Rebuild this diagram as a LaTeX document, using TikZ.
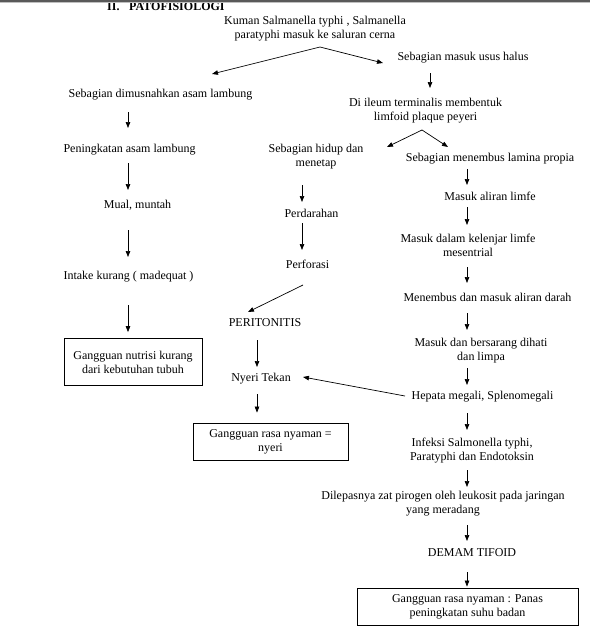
\documentclass[tikz,border=0pt]{standalone}
\usepackage{fontspec}
\setmainfont{Liberation Serif}
\usetikzlibrary{arrows.meta}
\tikzset{
  txt/.style={font=\fontsize{12}{14}\selectfont, inner sep=0pt, align=center},
  boxnode/.style={txt, draw, line width=0.8pt},
  arr/.style={draw, line width=0.7pt, -{Triangle[length=6pt,width=4.5pt]}},
  ln/.style={draw, line width=0.7pt}
}
\begin{document}
\begin{tikzpicture}[x=1pt,y=-1pt]
\useasboundingbox (0,0) rectangle (590,632);
% title
\node[txt, font=\fontsize{12}{14}\selectfont\bfseries, anchor=base west] (title) at (107,10) {II.\hspace{9.7pt}PATOFISIOLOGI};
\fill[black!65] (0,0) rectangle (590,2.2);
\fill[black!25] (0,2.2) rectangle (590,3);

% nodes
\node[txt] (kuman) at (315,29) {Kuman Salmanella typhi , Salmanella\\paratyphi masuk ke saluran cerna};
\node[txt] (usus) at (463,58) {Sebagian masuk usus halus};
\node[txt] (dimus) at (160.5,95) {Sebagian dimusnahkan asam lambung};
\node[txt] (ileum) at (425.5,110.5) {Di ileum terminalis membentuk\\limfoid plaque peyeri};
\node[txt] (pening) at (129.5,150) {Peningkatan asam lambung};
\node[txt] (mual) at (137.5,205) {Mual, muntah};
\node[txt] (intake) at (128.5,277) {Intake kurang ( madequat )};
\node[boxnode, minimum width=138pt, minimum height=47pt] (nutri) at (133,362) {Gangguan nutrisi kurang\\dari kebutuhan tubuh};
\node[txt] (hidup) at (316,156.5) {Sebagian hidup dan\\menetap};
\node[txt] (lamina) at (490,159) {Sebagian menembus lamina propia};
\node[txt] (limfe) at (490,196) {Masuk aliran limfe};
\node[txt] (kelenjar) at (468,245.5) {Masuk dalam kelenjar limfe\\mesentrial};
\node[txt] (menembus) at (487.5,297) {Menembus dan masuk aliran darah};
\node[txt] (perdarahan) at (311.5,213) {Perdarahan};
\node[txt] (perforasi) at (307.5,264) {Perforasi};
\node[txt] (peritonitis) at (265,323) {PERITONITIS};
\node[txt] (nyeri) at (261,379) {Nyeri Tekan};
\node[txt] (bersarang) at (481,350.5) {Masuk dan bersarang dihati\\dan limpa};
\node[txt] (hepata) at (482.5,397) {Hepata megali, Splenomegali};
\node[boxnode, minimum width=155pt, minimum height=37pt] (nyeribox) at (270.5,441.5) {Gangguan rasa nyaman =\\nyeri};
\node[txt] (infeksi) at (472,450.5) {Infeksi Salmonella typhi,\\Paratyphi dan Endotoksin};
\node[txt] (dilepas) at (443,503.5) {Dilepasnya zat pirogen oleh leukosit pada jaringan\\yang meradang};
\node[txt] (demam) at (472,553) {DEMAM TIFOID};
\node[boxnode, minimum width=221pt, minimum height=37pt] (panas) at (467.5,606.5) {Gangguan rasa nyaman : Panas\\peningkatan suhu badan};

% split from kuman
\draw[arr] ([shift={(5,18)}]kuman.center) -- ([shift={(51.5,-21)}]dimus.center);
\draw[arr] ([shift={(5,18)}]kuman.center) -- ([shift={(-80,5)}]usus.center);

% left column
\draw[arr] ([shift={(-32.5,17)}]dimus.center) -- ([shift={(-1.5,-22)}]pening.center);
\draw[arr] ([shift={(-1.5,13)}]pening.center) -- ([shift={(-9.5,-15)}]mual.center);
\draw[arr] ([shift={(-9.5,25)}]mual.center) -- ([shift={(-0.5,-20)}]intake.center);
\draw[arr] ([shift={(-0.5,28)}]intake.center) -- ([shift={(-5,-6)}]nutri.north);

% usus -> ileum
\draw[arr] ([shift={(-33,15)}]usus.center) -- ([shift={(4.5,-22.5)}]ileum.center);
% V from ileum
\draw[arr] ([shift={(-3.5,19.5)}]ileum.center) -- ([shift={(71,-9.5)}]hidup.center);
\draw[arr] ([shift={(-3.5,19.5)}]ileum.center) -- ([shift={(-42,-12)}]lamina.center);

% middle column
\draw[arr] ([shift={(-14,28.5)}]hidup.center) -- ([shift={(-9.5,-11)}]perdarahan.center);
\draw[arr] ([shift={(-9.5,10)}]perdarahan.center) -- ([shift={(-5.5,-14)}]perforasi.center);
\draw[arr] ([shift={(-4.5,21)}]perforasi.center) -- ([shift={(-17,-11)}]peritonitis.center);
\draw[arr] ([shift={(-8,17)}]peritonitis.center) -- ([shift={(-4,-12)}]nyeri.center);
\draw[arr] ([shift={(-77.5,-1)}]hepata.center) -- ([shift={(42,-2)}]nyeri.center);
\draw[arr] ([shift={(-4,15)}]nyeri.center) -- ([shift={(-13.5,-10)}]nyeribox.north);

% right column
\draw[arr] ([shift={(-23,10)}]lamina.center) -- ([shift={(-23,-11)}]limfe.center);
\draw[arr] ([shift={(-23,11)}]limfe.center) -- ([shift={(-1,-20.5)}]kelenjar.center);
\draw[arr] ([shift={(-1,21.5)}]kelenjar.center) -- ([shift={(-20.5,-14)}]menembus.center);
\draw[arr] ([shift={(-20.5,16)}]menembus.center) -- ([shift={(-14,-20.5)}]bersarang.center);
\draw[arr] ([shift={(-14,17.5)}]bersarang.center) -- ([shift={(-15.5,-12)}]hepata.center);
\draw[arr] ([shift={(-15.5,16)}]hepata.center) -- ([shift={(-5,-20.5)}]infeksi.center);
\draw[arr] ([shift={(-5,19.5)}]infeksi.center) -- ([shift={(24,-16.5)}]dilepas.center);
\draw[arr] ([shift={(24,21.5)}]dilepas.center) -- ([shift={(-5,-12)}]demam.center);
\draw[arr] ([shift={(-5,19)}]demam.center) -- ([shift={(-0.5,-1)}]panas.north);
\end{tikzpicture}
\end{document}
